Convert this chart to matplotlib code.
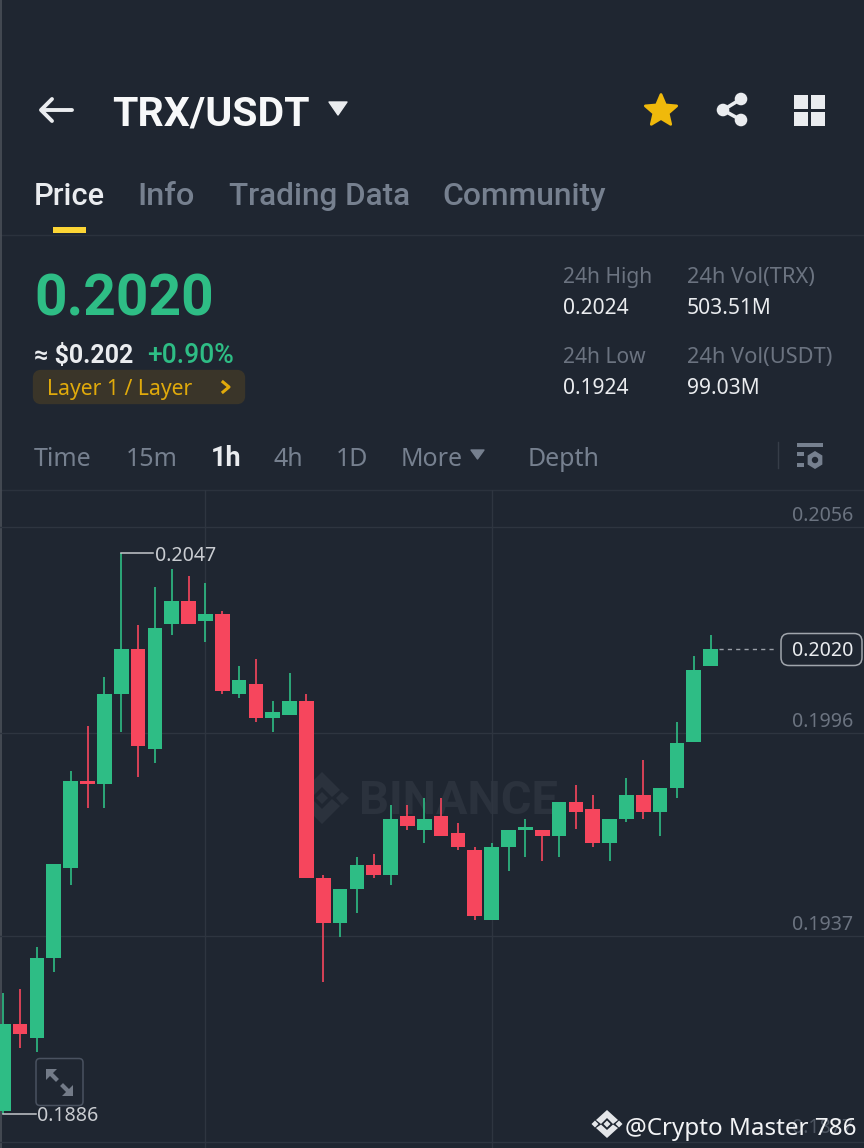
import numpy as np
import matplotlib
matplotlib.use("Agg")
import matplotlib.pyplot as plt
from matplotlib.patches import FancyBboxPatch, Polygon, Circle, Rectangle

# ---------- chart data ----------
opens = [0.18861,0.19114,0.19073,0.19306,0.19568,0.19821,0.19812,0.20074,0.20205,0.19914,0.20278,0.20345,0.20286,0.20307,0.20074,0.20103,0.20004,0.20013,0.20054,0.19539,0.19408,0.19507,0.19576,0.19547,0.19719,0.19678,0.19719,0.19670,0.19620,0.19416,0.19629,0.19678,0.19678,0.19661,0.19760,0.19739,0.19640,0.19710,0.19780,0.19731,0.19801,0.19934,0.20156]
highs = [0.19204,0.19216,0.19338,0.19579,0.19850,0.19981,0.20124,0.20484,0.20275,0.20385,0.20438,0.20417,0.20397,0.20316,0.20156,0.20176,0.20054,0.20135,0.20074,0.19547,0.19507,0.19600,0.19608,0.19751,0.19751,0.19771,0.19771,0.19699,0.19629,0.19640,0.19678,0.19710,0.19678,0.19760,0.19809,0.19780,0.19710,0.19830,0.19882,0.19801,0.19993,0.20185,0.20246]
lows = [0.18852,0.19044,0.19032,0.19265,0.19518,0.19742,0.19742,0.19963,0.19833,0.19873,0.20246,0.20278,0.20225,0.20074,0.20062,0.19993,0.19963,0.20013,0.19539,0.19236,0.19367,0.19437,0.19539,0.19518,0.19678,0.19640,0.19661,0.19620,0.19416,0.19416,0.19559,0.19600,0.19588,0.19600,0.19681,0.19629,0.19588,0.19702,0.19710,0.19661,0.19771,0.19934,0.20156]
closes = [0.19114,0.19085,0.19306,0.19579,0.19821,0.19812,0.20074,0.20205,0.19923,0.20266,0.20345,0.20278,0.20307,0.20083,0.20115,0.20004,0.20022,0.20054,0.19539,0.19408,0.19507,0.19576,0.19547,0.19710,0.19690,0.19710,0.19661,0.19629,0.19428,0.19629,0.19678,0.19687,0.19661,0.19760,0.19731,0.19640,0.19710,0.19780,0.19731,0.19801,0.19931,0.20144,0.20205]
price_ticks = [0.2056, 0.1996, 0.1937, 0.1877]
price_labels = ["0.2056", "0.1996", "0.1937", "0.1877"]
time_grid = [12, 29]
high_idx, high_val, high_label = 7, 0.20484, "0.2047"
low_idx, low_val, low_label = 0, 0.18852, "0.1886"
last_idx, last_val, last_label = 42, 0.20205, "0.2020"

BG = "#1f2631"; GRID = "#2e3540"; GREEN = "#2ebd85"; RED = "#f6465d"
WHITE = "#eaecef"; GRAY = "#76808f"; AXTXT = "#6b7380"; YEL = "#fcd535"
FONT = "Noto Sans"; NUM = "Roboto"

W, H = 864, 1148
fig = plt.figure(figsize=(W/100, H/100), dpi=100, facecolor=BG)

def px_axes(z):
    a = fig.add_axes([0, 0, 1, 1], zorder=z)
    a.set_xlim(0, W); a.set_ylim(H, 0); a.axis("off"); a.patch.set_alpha(0)
    return a

ui = px_axes(0)
top = px_axes(3)

def T(a, x, y, s, size, color=WHITE, weight="normal", family=FONT, ha="left", **kw):
    return a.text(x, y, s, fontsize=size*0.72, color=color, fontweight=weight,
                  family=family, ha=ha, va="baseline", **kw)

# header
ui.plot([72, 42], [110, 110], color=WHITE, lw=2.8, solid_capstyle="round")
ui.plot([52, 41, 52], [99, 110, 121], color=WHITE, lw=2.8, solid_capstyle="round", solid_joinstyle="round")
T(ui, 112.5, 125, "TRX/USDT", 41, "#f7f8f9", "bold", NUM)
ui.add_patch(Polygon([[329, 102], [347, 102], [338, 115]], fc=WHITE, ec=WHITE, lw=1, joinstyle="round"))
ang = np.deg2rad(90 + np.arange(10) * 36)
rad = np.where(np.arange(10) % 2 == 0, 16.5, 7.5)
ui.add_patch(Polygon(np.c_[661 + rad*np.cos(ang), 111 - rad*np.sin(ang)], fc="#f0b90b", ec="#f0b90b", lw=2, joinstyle="round"))
ui.plot([741, 723, 741], [99, 110, 120], color=WHITE, lw=2.6)
for cx, cy in [(723, 110), (741, 99), (741, 120)]:
    ui.add_patch(Circle((cx, cy), 6.3, fc=WHITE, ec="none"))
for x0 in (794, 811):
    for y0 in (95, 112):
        ui.add_patch(Rectangle((x0, y0), 13.5, 13.5, fc=WHITE, ec="none"))

# tabs
T(ui, 34, 205, "Price", 30.8, WHITE, "medium", NUM)
T(ui, 137.5, 205, "Info", 32.5, GRAY, "medium", NUM)
T(ui, 229, 205, "Trading Data", 31.5, GRAY, "medium", NUM)
T(ui, 442, 205, "Community", 31.8, GRAY, "medium", NUM)
ui.add_patch(Rectangle((53, 227), 33, 6, fc=YEL, ec="none"))
ui.plot([0, W], [234.5, 234.5], color="#2b323d", lw=1)

# price block
T(ui, 34, 315, "0.2020", 57, GREEN, "bold", NUM)
T(ui, 34, 363, "≈ $0.202", 25, WHITE, "bold", NUM)
T(ui, 147, 363, "+0.90%", 26.5, GREEN, "medium", NUM)
ui.add_patch(FancyBboxPatch((37, 374), 204, 26, boxstyle="round,pad=0,rounding_size=4", mutation_aspect=1,
                            fc="#3a3529", ec="#3a3529", lw=6))
T(ui, 47, 395, "Layer 1 / Layer", 21.2, "#e0aa0b", "normal")
ui.plot([223, 229, 223], [382, 387, 392], color="#e0aa0b", lw=2.2)

# stats
T(ui, 563, 283, "24h High", 21, AXTXT)
T(ui, 563, 314, "0.2024", 21, WHITE, "medium")
T(ui, 563, 363, "24h Low", 21, AXTXT)
T(ui, 563, 394, "0.1924", 21, WHITE, "medium")
T(ui, 687, 283, "24h Vol(TRX)", 21.8, AXTXT)
T(ui, 687, 314, "503.51M", 21, WHITE, "medium")
T(ui, 687, 363, "24h Vol(USDT)", 21.8, AXTXT)
T(ui, 687, 394, "99.03M", 21, WHITE, "medium")

# interval row
for x, s in [(34, "Time"), (126, "15m"), (273, "4h"), (336, "1D"), (401, "More"), (528, "Depth")]:
    T(ui, x, 466, s, 25, GRAY)
T(ui, 211, 466, "1h", 27, WHITE, "bold", NUM)
ui.add_patch(Polygon([[471, 450], [484, 450], [477.5, 459]], fc=GRAY, ec=GRAY, lw=1, joinstyle="round"))
ui.plot([778, 778], [442, 468], color="#363d48", lw=1)
ui.add_patch(Rectangle((797, 443), 26, 3.5, fc=GRAY, ec="none"))
ui.add_patch(Rectangle((797, 452), 7, 3.5, fc=GRAY, ec="none"))
ui.add_patch(Rectangle((797, 463), 7, 3.5, fc=GRAY, ec="none"))
hx = np.deg2rad(30 + np.arange(6) * 60)
ui.add_patch(Polygon(np.c_[815 + 8.5*np.cos(hx), 460 + 9*np.sin(hx)], fc=GRAY, ec="none"))
ui.add_patch(Circle((815, 460), 3.2, fc=BG, ec="none"))
ui.plot([0, W], [489.5, 489.5], color="#2b323d", lw=1)
ui.plot([0.5, 0.5], [0, H], color="#4a4f58", lw=1.2)

# watermark
WM = "#2b323d"
T(ui, 359, 814, "BINANCE", 47, WM, "bold", NUM)
ui.add_patch(Polygon([[322, 772], [340, 790], [332, 797], [322, 787], [312, 797], [304, 790]], fc=WM, ec="none"))
ui.add_patch(Polygon([[322, 824], [340, 806], [332, 799], [322, 809], [312, 799], [304, 806]], fc=WM, ec="none"))
ui.add_patch(Polygon([[322, 792], [328, 798], [322, 804], [316, 798]], fc=WM, ec="none"))
ui.add_patch(Polygon([[342, 792], [349, 798], [342, 805], [336, 798]], fc=WM, ec="none"))

# candle chart
ax = fig.add_axes([0, 0, 1, (H - 490) / H], zorder=1)
ax.patch.set_alpha(0)
x_step = 16.84
ax.set_xlim(-3.3 / x_step, (W - 3.3) / x_step)
per_px = 0.0000291
ax.set_ylim(0.2056 - (H - 527) * per_px, 0.2056 + (527 - 490) * per_px)
for s in ax.spines.values():
    s.set_visible(False)
ax.set_yticks(price_ticks); ax.set_xticks(time_grid)
ax.tick_params(length=0, labelleft=False, labelbottom=False)
ax.grid(True, color=GRID, lw=1)
ax.set_axisbelow(True)

xs = np.arange(len(opens))
o, h, l, c = map(np.array, (opens, highs, lows, closes))
cols = [GREEN if ci >= oi else RED for oi, ci in zip(o, c)]
ax.vlines(xs, l, h, colors=cols, lw=1.2, zorder=2)
ax.bar(xs, np.abs(c - o), bottom=np.minimum(o, c), width=0.87, color=cols, lw=0, zorder=3)

def off(a, x, v, s, dx, dy, size, color, ha="left", coords="data"):
    a.annotate(s, xy=(x, v), xycoords=coords, xytext=(dx*0.72, dy*0.72), textcoords="offset points",
               fontsize=size*0.72, color=color, ha=ha, va="baseline", family=FONT, annotation_clip=False)

for v, s in zip(price_ticks[:3], price_labels[:3]):
    off(ax, 1, v, s, -11, 6, 19.6, AXTXT, "right", ax.get_yaxis_transform())

# high / low markers
ax.plot([high_idx, high_idx + 1.9], [high_val, high_val], color="#c4c7cc", lw=1.1, zorder=2)
off(ax, high_idx + 1.98, high_val, high_label, 0, -8, 19.6, "#c9ccd1")
ax.plot([low_idx, low_idx + 1.95], [low_val, low_val], color="#c4c7cc", lw=1.1, zorder=2)
off(ax, low_idx + 2.0, low_val, low_label, 0, -7, 19.6, "#c9ccd1")

# last price
ax.plot([last_idx + 0.5, last_idx + 3.85], [last_val, last_val], color="#9aa0a8", lw=1, ls=(0, (3, 3)), zorder=2)
top.add_patch(FancyBboxPatch((781, 633.5), 81, 32, boxstyle="round,pad=0,rounding_size=8",
                             fc=BG, ec="#a0a5ac", lw=1.1, zorder=2))
T(top, 792, 656, last_label, 19.6, WHITE, zorder=3)

# expand button
top.add_patch(FancyBboxPatch((36, 1058.5), 47, 47, boxstyle="round,pad=0,rounding_size=4",
                             fc="none", ec="#4a5260", lw=1.1))
AR = "#737b88"
top.plot([49, 56], [1072, 1079], color=AR, lw=3)
top.plot([63, 70], [1086, 1093], color=AR, lw=3)
top.add_patch(Polygon([[46, 1069], [57, 1069], [46, 1080]], fc=AR, ec="none"))
top.add_patch(Polygon([[73, 1096], [62, 1096], [73, 1085]], fc=AR, ec="none"))

# faint axis label beneath the attribution
off(ax, 1, price_ticks[3], price_labels[3], -11, 9, 19.6, "#4d5561", "right", ax.get_yaxis_transform())

# attribution
T(top, 625, 1135, "@Crypto Master 786", 24.2, "#f2f3f5")
LG = "#e4e6e9"
top.add_patch(Polygon([[607, 1110], [618, 1120], [613, 1124], [607, 1118], [601, 1124], [596, 1120]], fc=LG, ec="none"))
top.add_patch(Polygon([[607, 1138], [618, 1128], [613, 1124.5], [607, 1130], [601, 1124.5], [596, 1128]], fc=LG, ec="none"))
top.add_patch(Polygon([[607, 1120.5], [610.5, 1124], [607, 1127.5], [603.5, 1124]], fc=LG, ec="none"))
top.add_patch(Polygon([[619, 1120.5], [622.5, 1124], [619, 1127.5], [615.5, 1124]], fc=LG, ec="none"))
top.add_patch(Polygon([[595, 1120.5], [598.5, 1124], [595, 1127.5], [591.5, 1124]], fc=LG, ec="none"))

fig.savefig("out.png", dpi=100, facecolor=BG)
